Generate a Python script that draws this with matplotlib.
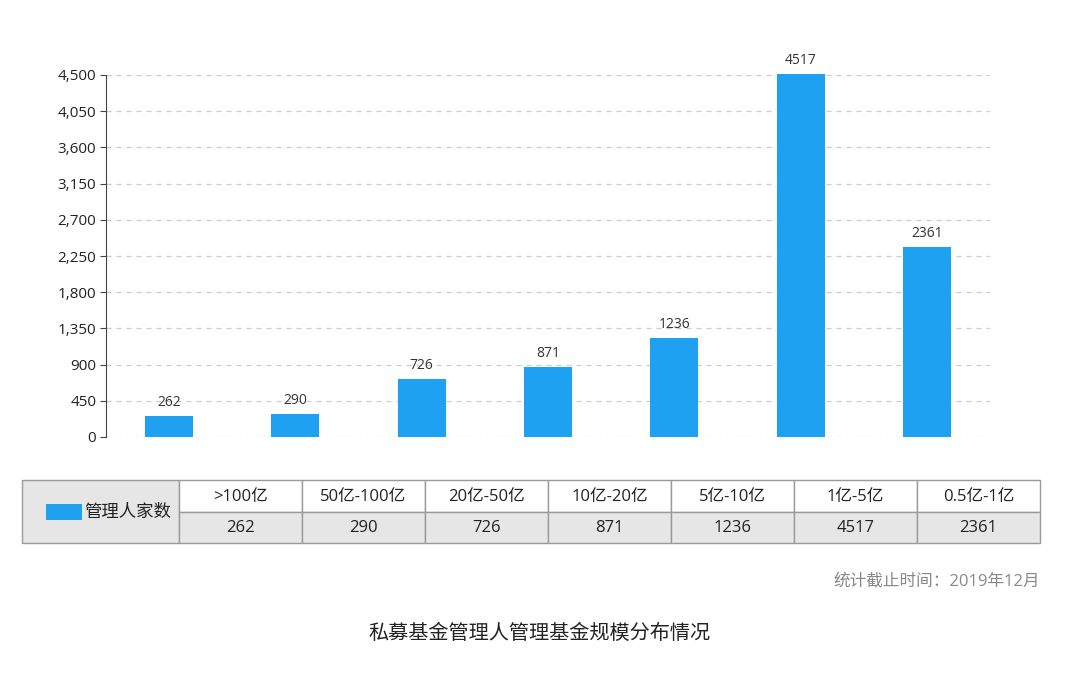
import numpy as np
import matplotlib.pyplot as plt
from matplotlib.patches import Rectangle

plt.rcParams['font.family'] = ['Open Sans', 'Noto Sans CJK SC', 'DejaVu Sans']

categories = [">100亿", "50亿-100亿", "20亿-50亿", "10亿-20亿", "5亿-10亿", "1亿-5亿", "0.5亿-1亿"]
counts = [262, 290, 726, 871, 1236, 4517, 2361]
series_name = "管理人家数"
yticks = [0, 450, 900, 1350, 1800, 2250, 2700, 3150, 3600, 4050, 4500]
note = "统计截止时间：2019年12月"
title = "私募基金管理人管理基金规模分布情况"

blue = '#1ea1f0'
W, H = 1080, 673

fig = plt.figure(figsize=(W / 100, H / 100), dpi=100)

# bar chart
ax = fig.add_axes([106 / W, 1 - 437 / H, (990 - 106) / W, (437 - 75) / H])
x = np.arange(len(categories))
bars = ax.bar(x, counts, width=0.38, color=blue, zorder=3, clip_on=False)
for xi, v in zip(x, counts):
    ax.text(xi, v + 70, str(v), ha='center', va='bottom', fontsize=10, color='#333333')
ax.set_xlim(-0.5, len(categories) - 0.5)
ax.set_ylim(0, 4500)
ax.set_yticks(yticks)
ax.set_yticklabels([f"{t:,}" for t in yticks], fontsize=11, color='#222222')
ax.set_xticks([])
ax.yaxis.grid(True, linestyle=(0, (4, 4)), color='#cccccc', linewidth=0.9, zorder=0)
for s in ['top', 'right', 'bottom']:
    ax.spines[s].set_visible(False)
ax.spines['left'].set_color('#444444')
ax.tick_params(axis='y', length=4, color='#444444', pad=3)

# data table drawn in pixel coordinates
tax = fig.add_axes([0, 0, 1, 1])
tax.set_xlim(0, W)
tax.set_ylim(H, 0)
tax.axis('off')
left, first_w, col_w = 22, 157, 123
top, row_h = 480, 31.5
border = '#9a9a9a'
gray = '#e6e6e6'
tax.add_patch(Rectangle((left, top), first_w, 2 * row_h, facecolor=gray, edgecolor=border, lw=1))
tax.add_patch(Rectangle((46, top + row_h - 8), 36, 16, facecolor=blue, edgecolor='none'))
tax.text(84, top + row_h + 1, series_name, ha='left', va='center', fontsize=12.5, color='#222222')
for i, (c, v) in enumerate(zip(categories, counts)):
    cx = left + first_w + i * col_w
    tax.add_patch(Rectangle((cx, top), col_w, row_h, facecolor='white', edgecolor=border, lw=1))
    tax.add_patch(Rectangle((cx, top + row_h), col_w, row_h, facecolor=gray, edgecolor=border, lw=1))
    tax.text(cx + col_w / 2, top + row_h / 2 + 1, c, ha='center', va='center', fontsize=12, color='#222222')
    tax.text(cx + col_w / 2, top + 1.5 * row_h + 1, str(v), ha='center', va='center', fontsize=12, color='#222222')

tax.text(1040, 582, note, ha='right', va='center', fontsize=12, color='#888888')
tax.text(540, 634, title, ha='center', va='center', fontsize=14.5, color='#222222')

fig.savefig('out.png', dpi=100)
